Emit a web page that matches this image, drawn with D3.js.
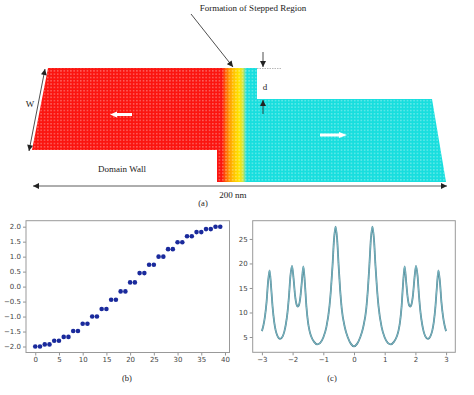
<!DOCTYPE html>
<html><head><meta charset="utf-8">
<script src="https://cdn.jsdelivr.net/npm/d3@7"></script>
<style>body{margin:0;background:#fff}svg{display:block}</style>
</head><body>
<script>
// ---------- Panel (b) data ----------
const bX = [0,1,2,3,4,5,6,7,8,9,10,11,12,13,14,15,16,17,18,19,20,21,22,23,24,25,26,27,28,29,30,31,32,33,34,35,36,37,38,39];
const bY = [-2.0,-2.0,-1.93,-1.93,-1.81,-1.81,-1.68,-1.68,-1.48,-1.48,-1.24,-1.24,-1.0,-1.0,-0.75,-0.75,-0.44,-0.44,-0.16,-0.16,
            0.14,0.14,0.45,0.45,0.73,0.73,1.0,1.0,1.25,1.25,1.48,1.48,1.68,1.68,1.82,1.82,1.92,1.92,2.0,2.0];
const bXTicks = [0,5,10,15,20,25,30,35,40];
const bYTicks = [-2.0,-1.5,-1.0,-0.5,0.0,0.5,1.0,1.5,2.0];

// ---------- Panel (c) data ----------
const cX = [-3.0,-2.95,-2.9,-2.85,-2.8,-2.75,-2.7,-2.65,-2.6,-2.55,-2.5,-2.41,-2.32,-2.27,-2.22,-2.17,-2.12,-2.07,-2.02,-1.97,-1.92,-1.87,-1.83,-1.8,-1.75,-1.7,-1.65,-1.6,-1.55,-1.5,-1.45,-1.4,-1.3,-1.2,-1.1,-1.0,-0.9,-0.8,-0.75,-0.7,-0.65,-0.6,-0.55,-0.5,-0.45,-0.4,-0.3,-0.2,-0.1,
            0.0,0.1,0.2,0.3,0.4,0.45,0.5,0.55,0.6,0.65,0.7,0.75,0.8,0.9,1.0,1.1,1.2,1.3,1.4,1.45,1.5,1.55,1.6,1.65,1.7,1.75,1.8,1.83,1.87,1.92,1.97,2.02,2.07,2.12,2.17,2.22,2.27,2.32,2.41,2.5,2.55,2.6,2.65,2.7,2.75,2.8,2.85,2.9,2.95,3.0];
const cY = [6.2,7.4,9.2,12.0,16.2,18.6,15.2,11.0,8.1,6.3,5.3,4.6,5.2,6.1,7.6,9.8,13.2,17.5,19.5,17.0,13.5,11.6,11.2,11.4,13.0,16.2,19.4,16.0,11.2,8.1,6.3,5.2,4.0,3.5,3.8,4.9,7.0,11.2,14.8,19.5,25.0,27.5,25.0,19.5,14.5,10.8,7.0,4.9,3.6,
            3.1,3.6,4.9,7.0,10.8,14.5,19.5,25.0,27.5,25.0,19.5,14.8,11.2,7.0,4.9,3.8,3.5,4.0,5.2,6.3,8.1,11.2,16.0,19.4,16.2,13.0,11.4,11.2,11.6,13.5,17.0,19.5,17.5,13.2,9.8,7.6,6.1,5.2,4.6,5.3,6.3,8.1,11.0,15.2,18.6,16.2,12.0,9.2,7.4,6.2];
const cXTicks = [-3,-2,-1,0,1,2,3];
const cYTicks = [5,10,15,20,25];

// ---------- Panel (a) text ----------
const aLabels = ["Formation of Stepped Region","d","W","Domain Wall","200 nm","(a)"];
const captions = ["(b)","(c)"];

const W = 474, H = 395;
const svg = d3.select("body").append("svg").attr("width", W).attr("height", H);
const defs = svg.append("defs");
const serif = "'Liberation Serif','Times New Roman',serif";
const sans = "'DejaVu Sans',sans-serif";

// ===== Panel (a) =====
const grad = defs.append("linearGradient").attr("id","mag")
  .attr("gradientUnits","userSpaceOnUse").attr("x1",217).attr("x2",250).attr("y1",0).attr("y2",0);
[[0,"#fb1510"],[0.15,"#fb1510"],[0.25,"#ff5a08"],[0.37,"#ff9800"],[0.52,"#ffc600"],[0.67,"#ffe400"],[0.79,"#cde64a"],[0.86,"#4ee0c4"],[0.9,"#18dede"],[1,"#18dede"]]
  .forEach(s => grad.append("stop").attr("offset", s[0]).attr("stop-color", s[1]));

const pat = defs.append("pattern").attr("id","dots").attr("patternUnits","userSpaceOnUse")
  .attr("width",3.3).attr("height",3.3);
pat.append("rect").attr("x",0.9).attr("y",0.9).attr("width",1.4).attr("height",1.4).attr("fill","#fff").attr("opacity",0.38);

const mk = (id, color) => {
  defs.append("marker").attr("id", id).attr("viewBox","0 0 10 10").attr("refX",10).attr("refY",5)
    .attr("markerWidth",7).attr("markerHeight",6).attr("markerUnits","userSpaceOnUse")
    .attr("orient","auto-start-reverse")
    .append("path").attr("d","M0,0 L10,5 L0,10 z").attr("fill", color);
};
mk("ah","#222");

const shape = [[48,68],[257,68],[257,99],[432,99],[446,182],[217,182],[217,150],[32,150]];
const line = d3.line();
svg.append("path").attr("d", line(shape) + "Z").attr("fill","url(#mag)");
svg.append("path").attr("d", line(shape) + "Z").attr("fill","url(#dots)");

// white magnetization arrows
const arrowL = [[132,113],[117,113],[117,111.5],[110,114.5],[117,117.5],[117,116],[132,116]];
const arrowR = [[320,133.5],[339,133.5],[339,132],[347,135],[339,138],[339,136.5],[320,136.5]];
svg.append("path").attr("d", line(arrowL)+"Z").attr("fill","#fff");
svg.append("path").attr("d", line(arrowR)+"Z").attr("fill","#fff");

const ink = "#222";
// stepped region pointer
svg.append("line").attr("x1",191).attr("y1",14).attr("x2",233).attr("y2",67)
  .attr("stroke",ink).attr("stroke-width",0.8).attr("marker-end","url(#ah)");
// d arrows
svg.append("line").attr("x1",263).attr("y1",52).attr("x2",263).attr("y2",67)
  .attr("stroke",ink).attr("stroke-width",0.8).attr("marker-end","url(#ah)");
svg.append("line").attr("x1",263).attr("y1",114).attr("x2",263).attr("y2",100)
  .attr("stroke",ink).attr("stroke-width",0.8).attr("marker-end","url(#ah)");
svg.append("line").attr("x1",257).attr("y1",68.5).attr("x2",281).attr("y2",68.5)
  .attr("stroke","#888").attr("stroke-width",0.6).attr("stroke-dasharray","1.5,1");
// W arrow
svg.append("line").attr("x1",45).attr("y1",69).attr("x2",29).attr("y2",151)
  .attr("stroke",ink).attr("stroke-width",0.8)
  .attr("marker-end","url(#ah)").attr("marker-start","url(#ah)");
// 200 nm arrow
svg.append("line").attr("x1",33).attr("y1",186).attr("x2",447).attr("y2",186)
  .attr("stroke","#333").attr("stroke-width",0.8)
  .attr("marker-end","url(#ah)").attr("marker-start","url(#ah)");

const tA = [[253,10.5,9],[265,90,9],[30,107,9],[122,172,9],[233,198,9],[203,205.5,8.5]];
aLabels.forEach((t,i) => svg.append("text").attr("x",tA[i][0]).attr("y",tA[i][1])
  .attr("text-anchor","middle").attr("font-family",serif).attr("font-size",tA[i][2])
  .attr("fill","#222").text(t));

// ===== helper for matplotlib-like axes =====
function styleAxis(g){
  g.select(".domain").remove();
  g.selectAll(".tick line").attr("stroke","#777").attr("stroke-width",0.8);
  g.selectAll(".tick text").attr("fill","#444").attr("font-family",sans).attr("font-size",7);
}

// ===== Panel (b) =====
const bL = 26, bR = 229.5, bT = 220.7, bB = 352.5;
const xb = d3.scaleLinear().domain([-1.95, 40.95]).range([bL, bR]);
const yb = d3.scaleLinear().domain([-2.2, 2.2]).range([bB, bT]);
svg.append("g").selectAll("circle").data(bX).join("circle")
  .attr("cx", (d) => xb(d)).attr("cy", (d,i) => yb(bY[i])).attr("r",2.3).attr("fill","#1a2a9c");
svg.append("g").attr("transform",`translate(0,${bB})`)
  .call(d3.axisBottom(xb).tickValues(bXTicks).tickFormat(d3.format("d")).tickSize(3).tickPadding(2)).call(styleAxis);
svg.append("g").attr("transform",`translate(${bL},0)`)
  .call(d3.axisLeft(yb).tickValues(bYTicks).tickFormat(d3.format(".1f")).tickSize(3).tickPadding(2)).call(styleAxis);
svg.append("rect").attr("x",bL).attr("y",bT).attr("width",bR-bL).attr("height",bB-bT)
  .attr("fill","none").attr("stroke","#999").attr("stroke-width",1);
svg.append("text").attr("x",127).attr("y",381).attr("text-anchor","middle")
  .attr("font-family",serif).attr("font-size",8.5).attr("fill","#222").text(captions[0]);

// ===== Panel (c) =====
const cL = 252.7, cR = 455.3, cT = 220.7, cB = 352.3;
const xc = d3.scaleLinear().domain([-3.3, 3.3]).range([cL, cR]);
const yc = d3.scaleLinear().domain([1.88, 28.72]).range([cB, cT]);
const cl = d3.line().x((d,i) => xc(d)).y((d,i) => yc(cY[i])).curve(d3.curveMonotoneX);
svg.append("path").attr("d", cl(cX)).attr("fill","none").attr("stroke","#4f8290").attr("stroke-width",1.8);
svg.append("path").attr("d", cl(cX)).attr("fill","none").attr("stroke","#86c6d2").attr("stroke-width",0.8);
svg.append("g").attr("transform",`translate(0,${cB})`)
  .call(d3.axisBottom(xc).tickValues(cXTicks).tickFormat(d3.format("d")).tickSize(3).tickPadding(2)).call(styleAxis);
svg.append("g").attr("transform",`translate(${cL},0)`)
  .call(d3.axisLeft(yc).tickValues(cYTicks).tickFormat(d3.format("d")).tickSize(3).tickPadding(2)).call(styleAxis);
svg.append("rect").attr("x",cL).attr("y",cT).attr("width",cR-cL).attr("height",cB-cT)
  .attr("fill","none").attr("stroke","#999").attr("stroke-width",1);
svg.append("text").attr("x",332).attr("y",381).attr("text-anchor","middle")
  .attr("font-family",serif).attr("font-size",8.5).attr("fill","#222").text(captions[1]);
</script>
</body></html>
